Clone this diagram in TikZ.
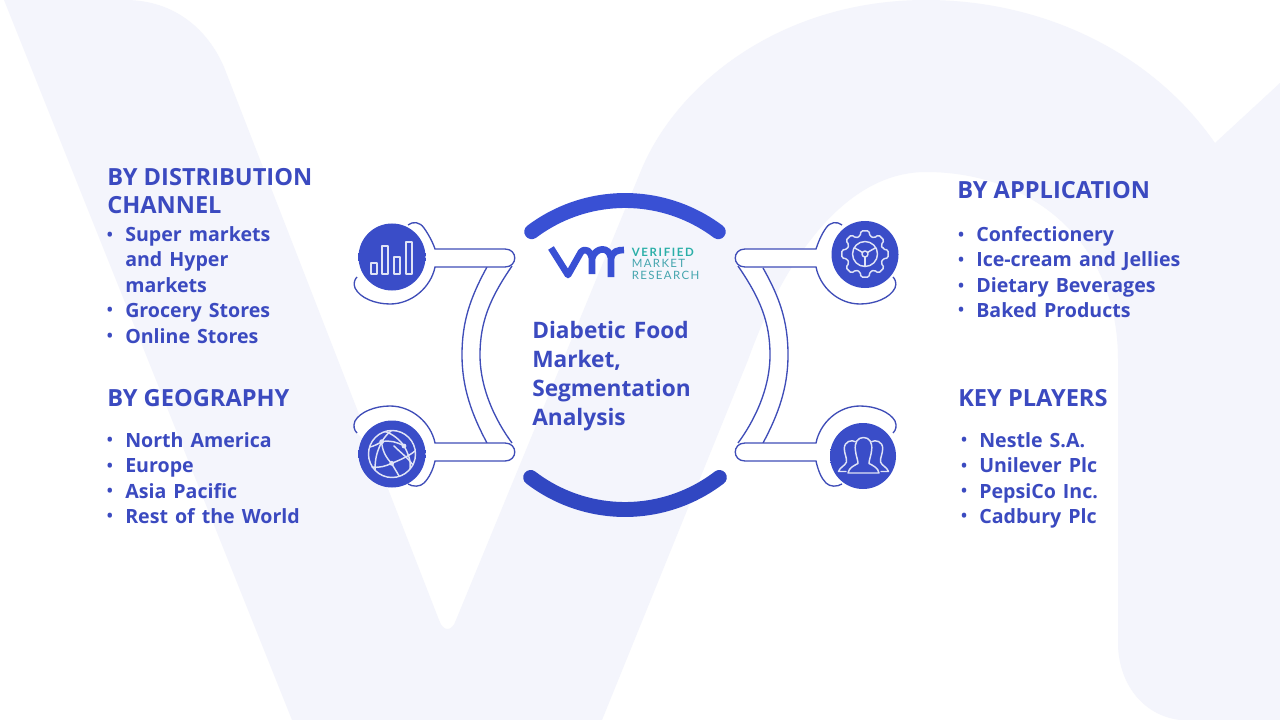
\documentclass[tikz,border=0pt]{standalone}
\usepackage{fontspec}
\setmainfont{Open Sans}
\newfontfamily\itemfont[WordSpace=1.38]{Open Sans}
\newfontfamily\logofont{Lato}
\definecolor{bgl}{HTML}{F4F5FC}
\definecolor{ink}{HTML}{3B4AC0}
\definecolor{ring}{HTML}{3F4DB8}
\definecolor{disc}{HTML}{3A4DC8}
\definecolor{discdark}{HTML}{2A3792}
\definecolor{arcc}{HTML}{3950D4}
\definecolor{arcd}{HTML}{3147C2}
\definecolor{glyph}{HTML}{DFE3F6}
\definecolor{teal}{HTML}{2BAFA8}
\definecolor{teal2}{HTML}{45A5AE}
\pgfdeclareverticalshading{discsh}{100bp}{color(0bp)=(disc); color(86bp)=(disc); color(100bp)=(discdark)}
\tikzset{
 ringline/.style={draw=ring,line width=1pt},
 head/.style={anchor=base west,inner sep=0,text=ink,font=\bfseries\fontsize{17.7}{18}\selectfont},
 itemt/.style={anchor=base west,inner sep=0,text=ink,font=\itemfont\bfseries\fontsize{14.7}{16}\selectfont},
 bult/.style={anchor=base,inner sep=0,text=ink,font=\bfseries\fontsize{12}{12}\selectfont},
 titlet/.style={anchor=base west,inner sep=0,text=ink,font=\itemfont\bfseries\fontsize{17}{18}\selectfont},
 disco/.style={shading=discsh},
 icon/.style={draw=glyph,line width=1.1pt,line join=round,line cap=round},
}
\newcommand{\itm}[5]{\node[bult] (b#1) at (#2,#4-1.5) {•};\node[itemt] (t#1) at (#3,#4) {#5};}
\begin{document}
\begin{tikzpicture}[x=0.75pt,y=-0.75pt]
\useasboundingbox (0,0) rectangle (1280,720);
\fill[white] (0,0) rectangle (1280,720);
\fill[bgl] (4,0) -- (125,0) .. controls (175,0) and (208,30) .. (224,67)
 -- (439,620) .. controls (443,632) and (452,632) .. (456,620)
 -- (640,173) .. controls (675,85) and (780,0) .. (926,0)
 .. controls (1040,0) and (1150,50) .. (1215,143) -- (1280,83) -- (1280,720) -- (1180,720)
 .. controls (1140,715) and (1118,680) .. (1118,643) -- (1118,360)
 .. controls (1118,240) and (1030,172) .. (926,172)
 .. controls (840,172) and (780,270) .. (748,360) -- (602,720) -- (292,720) -- cycle;
% central arcs
\draw[arcc,line width=11.2pt,line cap=round] plot[domain=233:307,samples=40] ({625+155*cos(\x)},{355.5+155*sin(\x)});
\draw[arcd,line width=11.2pt,line cap=round] plot[domain=52.5:127.5,samples=40] ({625+155*cos(\x)},{354.5+155*sin(\x)});
% bands
\fill[white] (487,267) .. controls (470,298) and (462,322) .. (462,355) .. controls (462,388) and (472,415) .. (487,443) -- (512,443) .. controls (495,420) and (480,388) .. (480,355) .. controls (480,322) and (490,298) .. (512,266) -- cycle;
\draw[ringline] (487,267) .. controls (470,298) and (462,322) .. (462,355) .. controls (462,388) and (472,415) .. (487,443);
\draw[ringline] (512,266) .. controls (490,298) and (480,322) .. (480,355) .. controls (480,388) and (495,420) .. (512,443);
\fill[white] (763,268) .. controls (780,298) and (788,322) .. (788,355) .. controls (788,388) and (778,415) .. (763,443) -- (738,443) .. controls (755,420) and (770,388) .. (770,355) .. controls (770,322) and (760,298) .. (738,266) -- cycle;
\draw[ringline] (763,268) .. controls (780,298) and (788,322) .. (788,355) .. controls (788,388) and (778,415) .. (763,443);
\draw[ringline] (738,266) .. controls (760,298) and (770,322) .. (770,355) .. controls (770,388) and (755,420) .. (738,443);
% hooks with bars
\draw[ringline,fill=white] (408,225) .. controls (413,221) and (420,222) .. (424,228) .. controls (429,235) and (433,243) .. (435,249) -- (505,249) .. controls (518,249) and (518,267) .. (505,267) -- (435,267)
 .. controls (431,287) and (412,304) .. (390,304) .. controls (375,304) and (360,298) .. (355,288) .. controls (353,283) and (355,279) .. (357,277);
\draw[ringline,fill=white] (357,433) .. controls (354,430) and (353,426) .. (355,421) .. controls (360,412) and (375,406) .. (390,406) .. controls (412,406) and (431,423) .. (435,443) -- (505,443) .. controls (518,443) and (518,461) .. (505,461) -- (435,461)
 .. controls (433,470) and (429,478) .. (424,483) .. controls (420,487) and (413,487) .. (408,484);
\draw[ringline,fill=white] (842,225) .. controls (837,221) and (830,222) .. (826,228) .. controls (821,235) and (818,243) .. (816,249) -- (745,249) .. controls (732,249) and (732,267) .. (745,267) -- (816,267)
 .. controls (820,287) and (838,304) .. (860,304) .. controls (875,304) and (890,298) .. (895,288) .. controls (897,283) and (895,279) .. (893,277);
\draw[ringline,fill=white] (893,433) .. controls (896,430) and (897,426) .. (895,421) .. controls (890,412) and (875,406) .. (860,406) .. controls (838,406) and (820,423) .. (816,443) -- (745,443) .. controls (732,443) and (732,461) .. (745,461) -- (816,461)
 .. controls (818,470) and (821,478) .. (826,483) .. controls (830,487) and (837,487) .. (842,484);
% discs
\path[disco] (392,257) circle[radius=33.5];
\path[disco] (392,454) circle[radius=33.5];
\path[disco] (865,254.5) circle[radius=33.5];
\path[disco] (863,456) circle[radius=33];
% bar icon
\draw[icon,line cap=butt] (371,263) rectangle (377,274);
\draw[icon,line cap=butt] (382,246) rectangle (388,274);
\draw[icon,line cap=butt] (394,257) rectangle (400,274);
\draw[icon,line cap=butt] (406,242) rectangle (412,274);
% globe icon
\draw[icon] (392,454) circle[radius=23.5];
\draw[icon] (370,447) .. controls (374,446) and (378,444) .. (381.7,441.7) .. controls (384,438) and (387,434) .. (391,431);
\draw[icon] (385,431.5) .. controls (393,434) and (400,440) .. (404,446) .. controls (408,453) and (411,460) .. (410,469);
\draw[icon] (381.7,441.7) .. controls (390,440) and (397,442) .. (404,446);
\draw[icon] (381.7,441.7) .. controls (378,450) and (375,456) .. (375,470);
\draw[icon] (381.7,441.7) .. controls (382,450) and (386,458) .. (391.7,463.3) .. controls (394,468) and (397,472) .. (399,476);
\draw[icon] (372,467) .. controls (380,468) and (386,466) .. (391.7,463.3) .. controls (400,460) and (409,456) .. (415,451);
\draw[icon] (394,446) .. controls (400,452) and (408,458) .. (413,465);
\fill[glyph] (381.7,441.7) circle[radius=2.4];
\fill[glyph] (404,446) circle[radius=2.4];
\fill[glyph] (391.7,463.3) circle[radius=2.4];
% gear icon
\draw[icon,rounded corners=1.2pt] ({865+18.5*cos(-15)},{254+18.5*sin(-15)})
 \foreach \a in {0,45,...,315} { -- ({865+18.5*cos(\a-15)},{254+18.5*sin(\a-15)}) -- ({865+23.5*cos(\a-10)},{254+23.5*sin(\a-10)}) -- ({865+23.5*cos(\a+10)},{254+23.5*sin(\a+10)}) -- ({865+18.5*cos(\a+15)},{254+18.5*sin(\a+15)}) } -- cycle;
\draw[icon] (865,254) circle[radius=12.5];
\draw[icon] (865,254) circle[radius=3];
\draw[icon] (865,257) -- (865,266.5);
\draw[icon] (862.4,252.5) .. controls (859,250) and (857,249.5) .. (854.2,247.7);
\draw[icon] (867.6,252.5) .. controls (871,250) and (873,249.5) .. (875.8,247.7);
% people icon
\draw[icon] (848,473) .. controls (849,468) and (853,466) .. (858,463.5) .. controls (858,460) and (856,456) .. (855.5,451) .. controls (854,442) and (858,437.5) .. (863.5,437.5) .. controls (869,437.5) and (873,442) .. (871.5,451) .. controls (871,456) and (869,460) .. (869,463.5) .. controls (874,466) and (878,468) .. (879,473) -- cycle;
\draw[icon] (855.3,441.7) .. controls (852,439.5) and (844,441) .. (844.3,449) .. controls (844.5,454) and (847,458) .. (846.5,462) .. controls (845,466) and (840,467) .. (838.5,471.5) -- (846,471.5);
\draw[icon] (871.7,441.7) .. controls (875,439.5) and (883,441) .. (882.7,449) .. controls (882.5,454) and (880,458) .. (880.5,462) .. controls (882,466) and (887,467) .. (888.5,471.5) -- (881,471.5);
% logo mark
\draw[arcc,line width=5pt,line join=round] (551,248) -- (568,275) -- (581,252) .. controls (586,247) and (591,252) .. (592,258) -- (592,274);
\draw[arcc,line width=5pt,line join=round] (592,258) .. controls (596,247) and (609,246) .. (611,258) -- (611,277);
\draw[arcc,line width=5pt,line join=round] (611,258) .. controls (613,251) and (618,250) .. (624,250);
\node[anchor=base west,inner sep=0,text=teal,font=\logofont\bfseries\fontsize{8.6}{9}\selectfont\addfontfeature{LetterSpace=14.5}] (lv) at (631.5,256) {VERIFIED};
\node[anchor=base west,inner sep=0,text=teal2,font=\logofont\fontsize{8.6}{9}\selectfont\addfontfeature{LetterSpace=12}] (lm) at (631.5,267.5) {MARKET};
\node[anchor=base west,inner sep=0,text=teal2,font=\logofont\fontsize{8.6}{9}\selectfont\addfontfeature{LetterSpace=12}] (lr) at (631.5,279) {RESEARCH};
% titles
\node[titlet] (c1) at (532,338) {Diabetic Food};
\node[titlet] (c2) at (532,367) {Market,};
\node[titlet] (c3) at (532,396) {Segmentation};
\node[titlet] (c4) at (532,425) {Analysis};
\node[head] (h1) at (107,186) {BY DISTRIBUTION};
\node[head] (h2) at (107,214) {CHANNEL};
\node[head] (h3) at (107,406) {BY GEOGRAPHY};
\node[head] (h4) at (957,199) {BY APPLICATION};
\node[head] (h5) at (958,406) {KEY PLAYERS};
\itm{a}{110}{125}{241.5}{Super markets}
\node[itemt] (ta2) at (125,266.5) {and Hyper};
\node[itemt] (ta3) at (125,292) {markets};
\itm{a4}{110}{125}{317}{Grocery Stores}
\itm{a5}{110}{125}{343}{Online Stores}
\itm{g1}{110}{125}{447}{North America}
\itm{g2}{110}{125}{472.5}{Europe}
\itm{g3}{110}{125}{498}{Asia Pacific}
\itm{g4}{110}{125}{523}{Rest of the World}
\itm{p1}{961}{976}{241.5}{Confectionery}
\itm{p2}{961}{976}{266.5}{Ice-cream and Jellies}
\itm{p3}{961}{976}{292.5}{Dietary Beverages}
\itm{p4}{961}{976}{317}{Baked Products}
\itm{k1}{964}{979}{447}{Nestle S.A.}
\itm{k2}{964}{979}{472.5}{Unilever Plc}
\itm{k3}{964}{979}{498}{PepsiCo Inc.}
\itm{k4}{964}{979}{523}{Cadbury Plc}
\end{tikzpicture}
\end{document}
